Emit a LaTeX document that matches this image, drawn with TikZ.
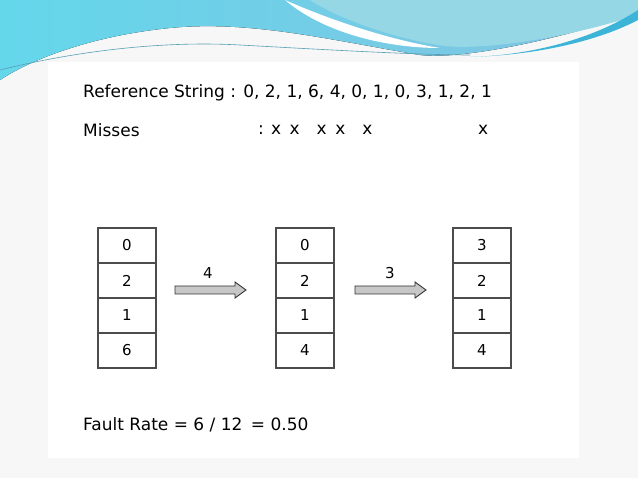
\documentclass[tikz,border=0pt]{standalone}
\usepackage{fontspec}
\setmainfont{DejaVu Sans}
\definecolor{wA}{RGB}{100,215,235}
\definecolor{wB}{RGB}{130,195,225}
\definecolor{wC}{RGB}{150,215,230}
\definecolor{wD}{RGB}{60,180,215}
\begin{document}
\begin{tikzpicture}[x=1pt,y=-1pt,
  cell/.style={draw=black!70,line width=1.3pt,minimum width=58pt,minimum height=35pt,inner sep=0pt,font=\fontsize{15}{17}\selectfont},
  fat/.style={draw=black!80,line width=0.9pt,fill=black!22},
  txt/.style={anchor=west,inner sep=0pt,font=\fontsize{17}{19}\selectfont}]
\useasboundingbox (0,0) rectangle (638,478);
\fill[black!3] (0,0) rectangle (638,478);
\fill[white] (48,62) rectangle (579,458);
% waves
\fill[left color=wA, right color=wB] (0,0) -- (638,0) -- (638,12) .. controls (560,40) and (460,60) .. (420,55) .. controls (330,40) and (250,20) .. (170,28) .. controls (90,36) and (30,60) .. (0,80) -- cycle;
\fill[white] (285,0) .. controls (330,20) and (390,40) .. (440,48) .. controls (380,48) and (320,30) .. (285,0);
\fill[wC] (310,0) -- (638,0) -- (638,15) .. controls (560,40) and (480,50) .. (445,46) .. controls (400,40) and (340,20) .. (310,0);
\draw[wD!60!gray,line width=0.6pt] (0,70) .. controls (60,55) and (150,40) .. (240,45) .. controls (330,50) and (420,55) .. (470,55);
\fill[wD] (638,10) .. controls (600,35) and (540,55) .. (470,57) .. controls (540,55) and (600,40) .. (638,20) -- cycle;
\node[txt] (ref) at (83,93) {Reference String : 0, 2, 1, 6, 4, 0, 1, 0, 3, 1, 2, 1};
\node[txt] (mis) at (83,130) {Misses};
\node[txt] (mx) at (258,130) {: x\enspace x\quad x\enspace x\quad x};
\node[txt] (mx2) at (478,130) {x};
% columns
\foreach \c/\x/\a/\b/\cc/\d in {A/127/0/2/1/6, B/305/0/2/1/4, C/482/3/2/1/4}{
  \node[cell] (\c1) at (\x,245.5) {\a};
  \node[cell] (\c2) at (\x,280.5) {\b};
  \node[cell] (\c3) at (\x,315.5) {\cc};
  \node[cell] (\c4) at (\x,350.5) {\d};
}
\foreach \s in {175,355}{
  \draw[fat] (\s,286) -- (\s+60,286) -- (\s+60,282) -- (\s+71,290) -- (\s+60,298) -- (\s+60,294) -- (\s,294) -- cycle;
}
\node[font=\fontsize{15}{17}\selectfont] (l1) at (208,273) {4};
\node[font=\fontsize{15}{17}\selectfont] (l2) at (390,273) {3};
\node[txt] (fr) at (83,425) {Fault Rate = 6 / 12\enspace = 0.50};
\end{tikzpicture}
\end{document}
